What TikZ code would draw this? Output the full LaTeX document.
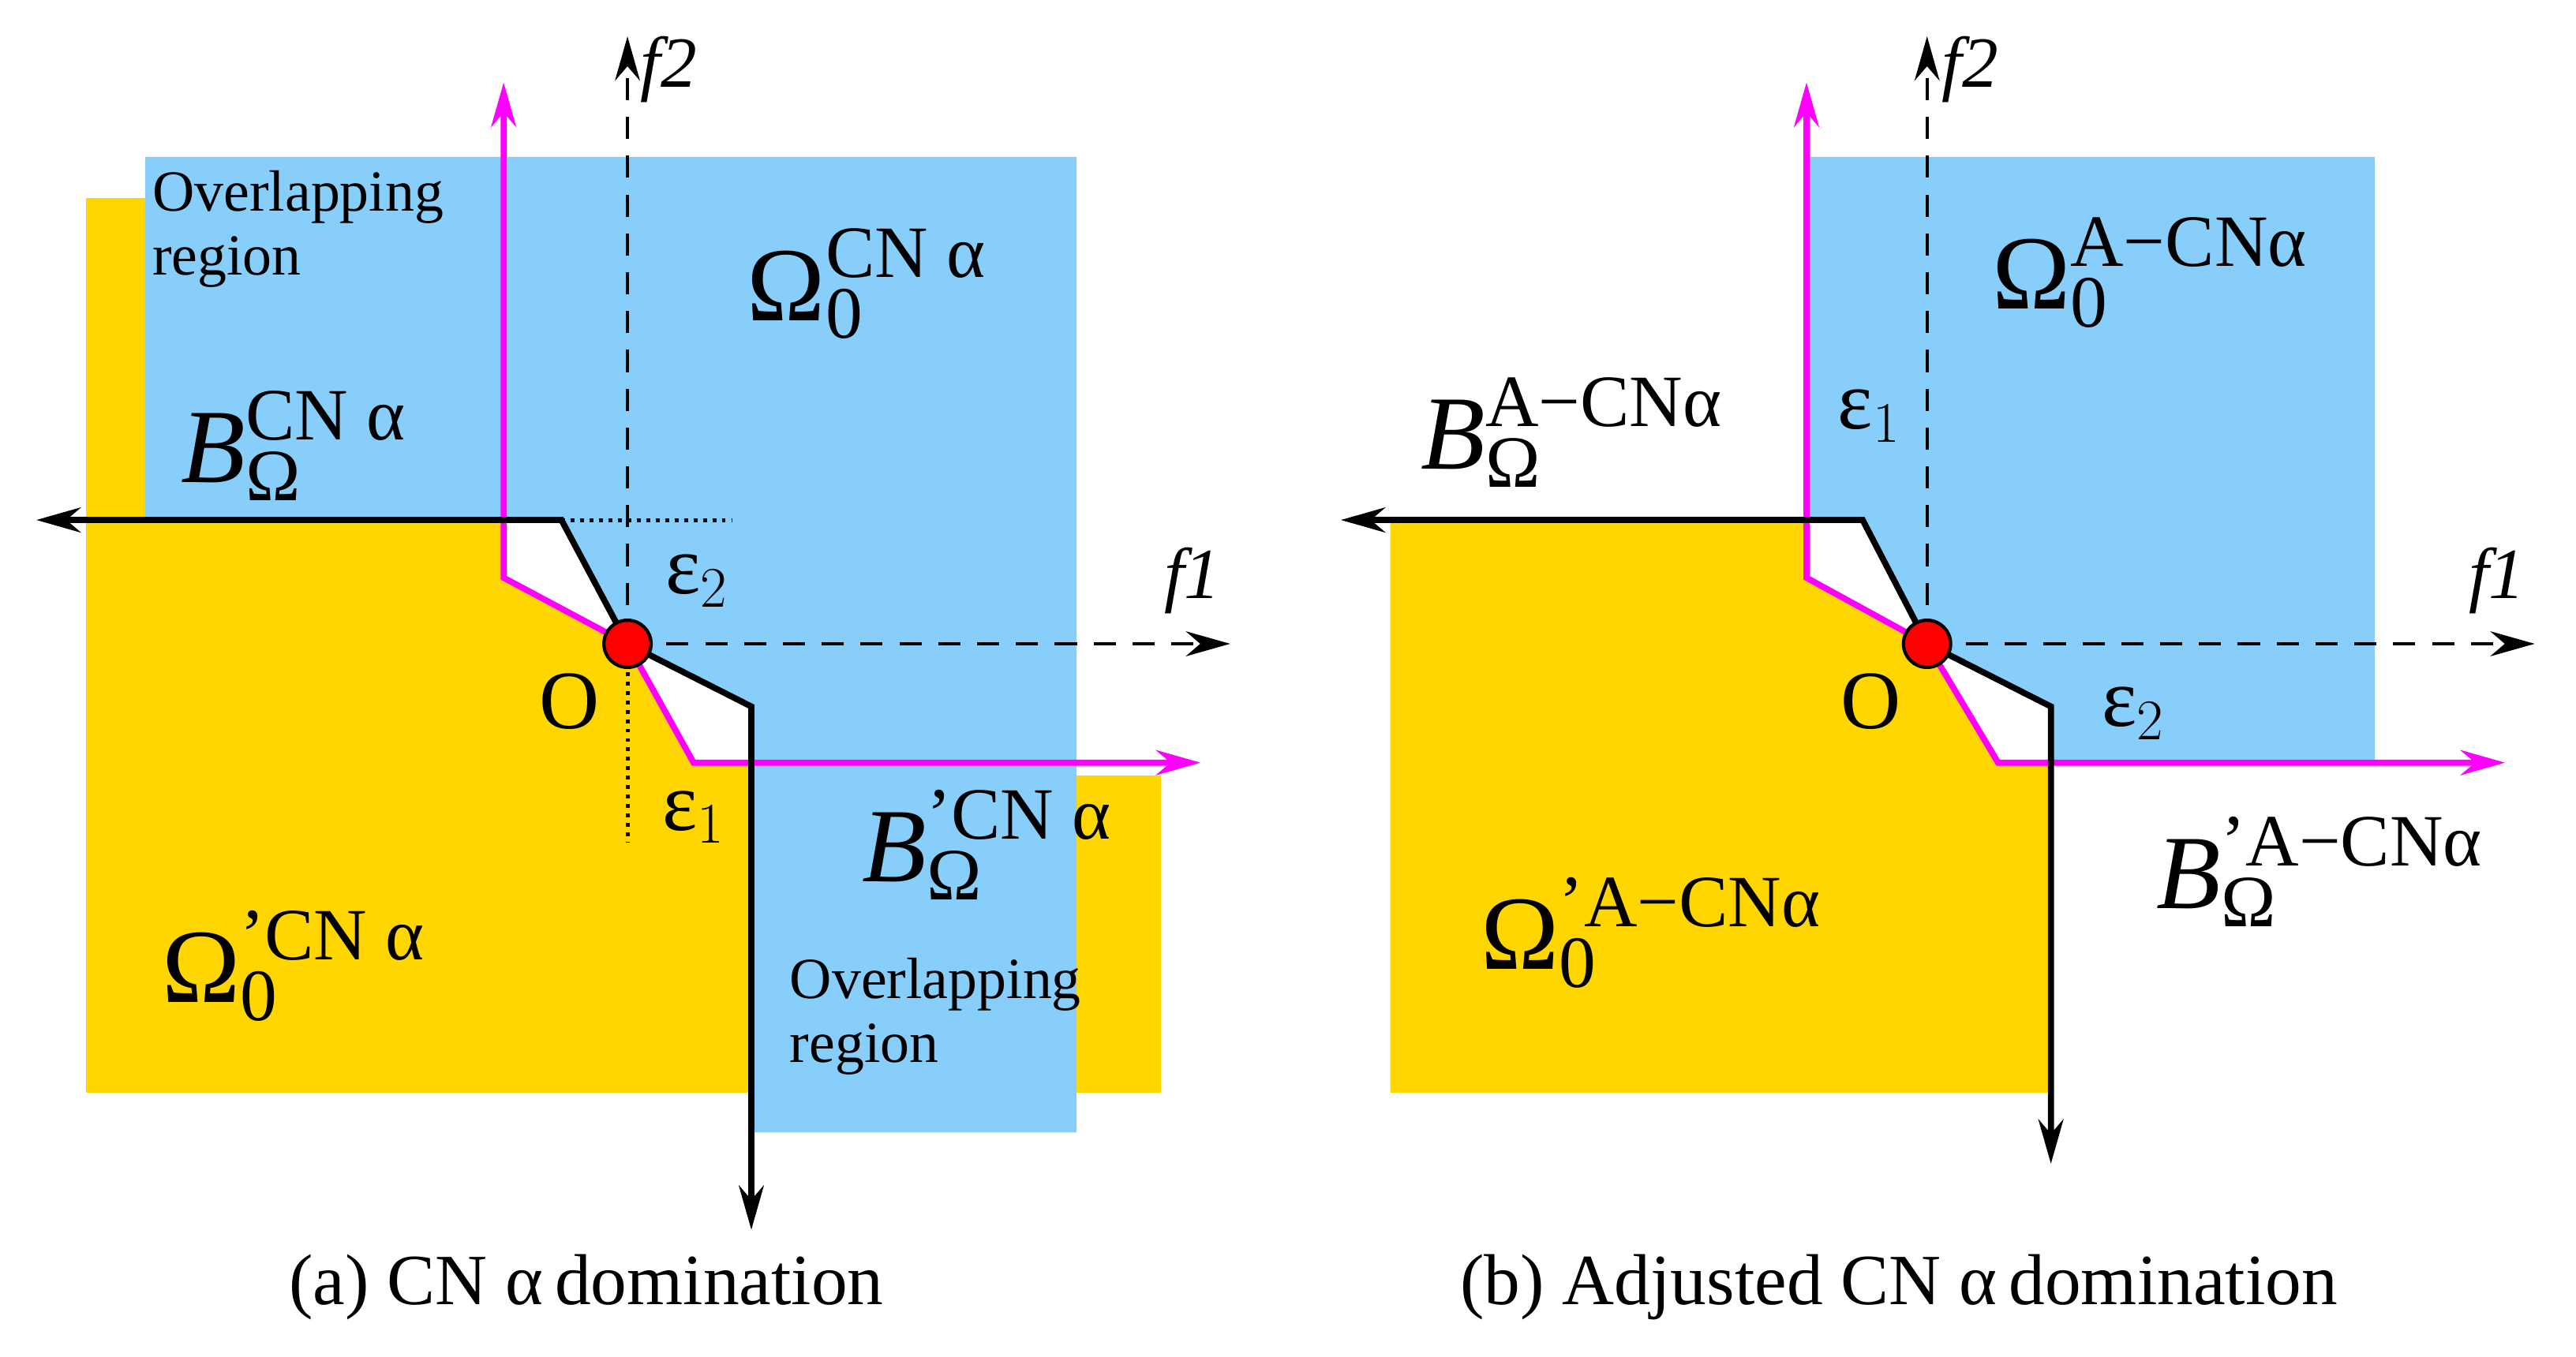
\documentclass[tikz,border=0pt]{standalone}
\usepackage{amsmath}
\usepackage{fontspec}
\setmainfont{Liberation Serif}
\usetikzlibrary{arrows.meta}
\definecolor{gold}{RGB}{255,214,0}
\definecolor{skyblue}{RGB}{135,206,250}
\definecolor{magline}{RGB}{255,0,255}
\tikzset{
  boundary/.style={line width=2.2pt,black,-{Stealth[length=16pt,width=9pt]}},
  cone/.style={line width=2.2pt,magline,-{Stealth[length=16pt,width=9pt]}},
  edge/.style={line width=2.2pt,magline},
  axis/.style={dash pattern=on 8pt off 6pt,line width=1.2pt,-{Stealth[length=16pt,width=9pt]}},
  guide/.style={dotted,line width=1.4pt},
  origin/.style={circle,fill=red,draw=black,line width=1.2pt,minimum size=17pt,inner sep=0pt},
  lbl/.style={font=\fontsize{30}{34}\selectfont,inner sep=0pt},
  big/.style={font=\fontsize{38}{42}\selectfont,inner sep=0pt},
  note/.style={font=\fontsize{21}{23}\selectfont,align=left,inner sep=0pt},
  caption/.style={font=\fontsize{26}{30}\selectfont,inner sep=0pt}
}
\begin{document}
\begin{tikzpicture}[x=0.02092cm,y=-0.02092cm]
\useasboundingbox (0,0) rectangle (1560,822);

% (a) CN alpha domination
\fill[gold] (52,120) rectangle (455,662);
\fill[gold] (455,470) rectangle (703,662);
\fill[skyblue] (88,95) -- (652,95) -- (652,686) -- (455,686) -- (455,428)
  -- (380,390) -- (340,315) -- (88,315) -- cycle;
\fill[white] (305,315) -- (340,315) -- (380,390) -- (305,350) -- cycle;
\fill[white] (380,390) -- (455,428) -- (455,462) -- (420,462) -- cycle;
\coordinate (aO) at (380,390);
\coordinate (aup) at (380,22);
\coordinate (aright) at (745,390);
\coordinate (acorner) at (340,315);
\coordinate (aleft) at (22,315);
\coordinate (aknee) at (455,428);
\coordinate (adown) at (455,745);
\coordinate (amtop) at (305,50);
\coordinate (amk1) at (305,350);
\coordinate (amk2) at (420,462);
\coordinate (amright) at (727,462);
\draw[axis] (aO) -- (aup);
\draw[axis] (aO) -- (aright);
\draw[guide] (acorner) -- (443,315);
\draw[guide] (aO) -- (380,510);
\draw[cone] (aO) -- (amk1) -- (amtop);
\draw[cone] (aO) -- (amk2) -- (amright);
\draw[boundary] (aO) -- (acorner) -- (aleft);
\draw[boundary] (aO) -- (aknee) -- (adown);
\node[origin] (aorig) at (aO) {};
\node[lbl,font=\fontsize{26}{30}\selectfont\itshape] (af2) at (405,42) {f2};
\node[lbl,font=\fontsize{26}{30}\selectfont\itshape] (af1) at (722,352) {f1};
\node[lbl] (aOl) at (345,425) {O};
\node[lbl] (aeps2) at (422,352) {$\text{ε}_2$};
\node[lbl] (aeps1) at (420,495) {$\text{ε}_1$};
\node[note,anchor=north west] (aover1) at (92,103) {Overlapping\\region};
\node[note,anchor=north west] (aover2) at (478,580) {Overlapping\\ region};
\node[big] (aomega) at (525,172) {$\text{Ω}_{\text{0}}^{\text{CN α}}$};
\node[big] (abound) at (178,270) {$\textit{B}_{\text{Ω}}^{\text{CN α}}$};
\node[big] (abound2) at (598,512) {$\textit{B}_{\text{Ω}}^{\text{’CN α}}$};
\node[big] (aomega2) at (178,585) {$\text{Ω}_{\text{0}}^{\text{’CN α}}$};
\node[caption] (acap) at (355,780) {(a) CN $\text{α}$\,domination};

% (b) Adjusted CN alpha domination
\fill[gold] (842,315) -- (1128,315) -- (1167,390) -- (1242,428) -- (1242,662) -- (842,662) -- cycle;
\fill[skyblue] (1094,95) -- (1438,95) -- (1438,462) -- (1242,462) -- (1242,428)
  -- (1167,390) -- (1128,315) -- (1094,315) -- cycle;
\fill[white] (1094,315) -- (1128,315) -- (1167,390) -- (1094,350) -- cycle;
\fill[white] (1167,390) -- (1242,428) -- (1242,462) -- (1210,462) -- cycle;
\coordinate (bO) at (1167,390);
\coordinate (bup) at (1167,22);
\coordinate (bright) at (1535,390);
\coordinate (bcorner) at (1128,315);
\coordinate (bleft) at (812,315);
\coordinate (bknee) at (1242,428);
\coordinate (bdown) at (1242,705);
\coordinate (bmtop) at (1094,50);
\coordinate (bmk1) at (1094,350);
\coordinate (bmk2) at (1210,462);
\coordinate (bmright) at (1517,462);
\draw[axis] (bO) -- (bup);
\draw[axis] (bO) -- (bright);
\draw[cone] (bO) -- (bmk1) -- (bmtop);
\draw[cone] (bO) -- (bmk2) -- (bmright);
\draw[boundary] (bO) -- (bcorner) -- (bleft);
\draw[boundary] (bO) -- (bknee) -- (bdown);
\node[origin] (borig) at (bO) {};
\node[lbl,font=\fontsize{26}{30}\selectfont\itshape] (bf2) at (1193,42) {f2};
\node[lbl,font=\fontsize{26}{30}\selectfont\itshape] (bf1) at (1512,352) {f1};
\node[lbl] (bOl) at (1133,425) {O};
\node[lbl] (beps1) at (1132,252) {$\text{ε}_1$};
\node[lbl] (beps2) at (1292,432) {$\text{ε}_2$};
\node[big] (bomega) at (1302,165) {$\text{Ω}_{\text{0}}^{\text{A−CNα}}$};
\node[big] (bbound) at (952,262) {$\textit{B}_{\text{Ω}}^{\text{A−CNα}}$};
\node[big] (bbound2) at (1405,528) {$\textit{B}_{\text{Ω}}^{\text{’A−CNα}}$};
\node[big] (bomega2) at (1000,565) {$\text{Ω}_{\text{0}}^{\text{’A−CNα}}$};
\node[caption] (bcap) at (1150,780) {(b) Adjusted CN $\text{α}$\,domination};
\end{tikzpicture}
\end{document}
